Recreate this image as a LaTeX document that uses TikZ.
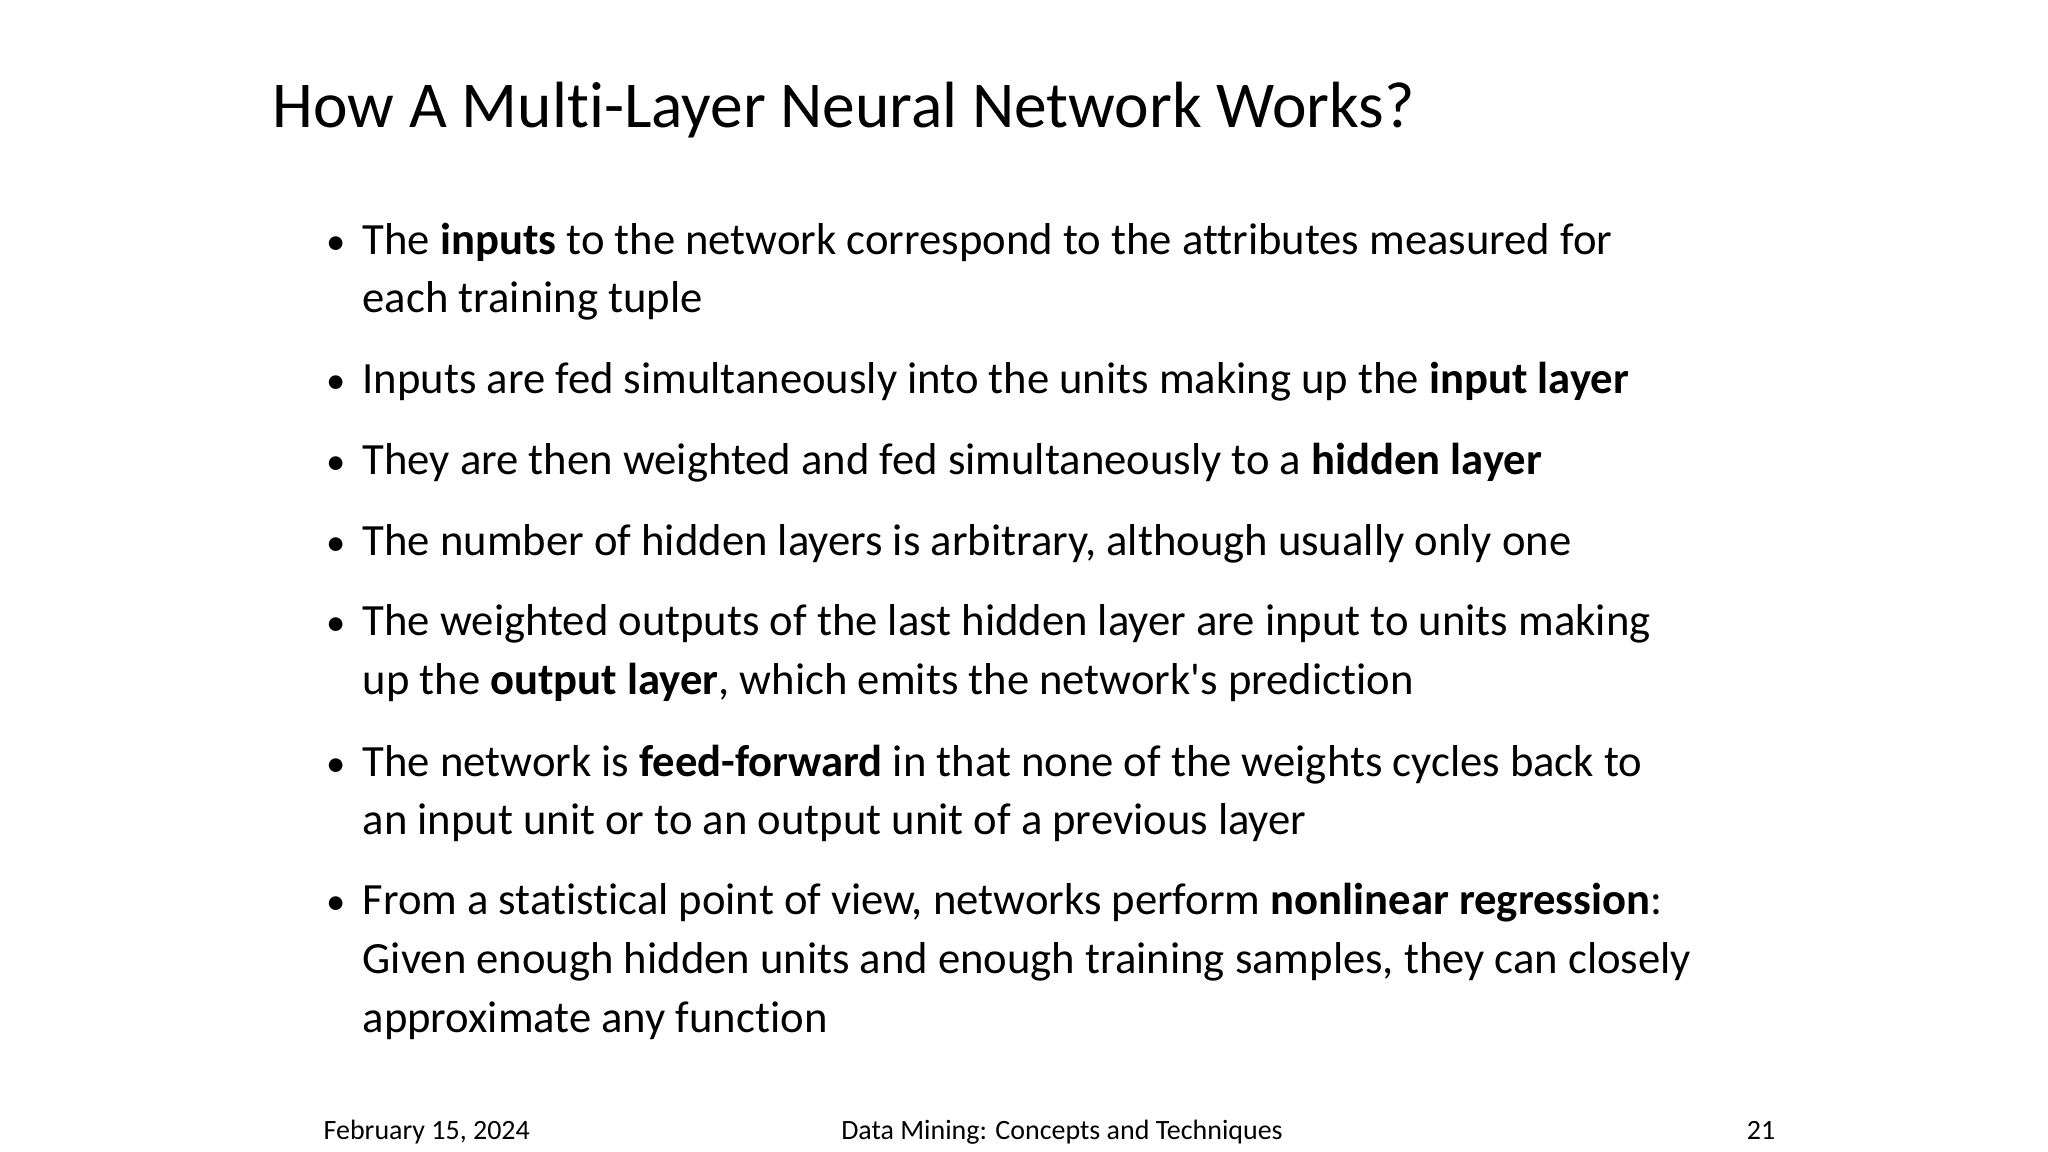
\documentclass[tikz,border=0pt]{standalone}
\usepackage{fontspec}
\setmainfont{Carlito}[Ligatures=NoCommon]
\begin{document}
\begin{tikzpicture}[x=0.01cm,y=-0.01cm,
  ln/.style={anchor=base west,inner sep=0pt,font=\fontsize{12.7}{15}\selectfont},
  bl/.style={anchor=base west,inner sep=0pt,font=\fontsize{11}{13}\selectfont},
  ft/.style={inner sep=0pt,font=\fontsize{7.95}{9}\selectfont}]
\useasboundingbox[fill=white] (0,0) rectangle (2048,1152);
\node[anchor=base west,inner sep=0pt,font=\fontsize{18.6}{22}\selectfont] (title) at (272,128) {How A Multi-Layer Neural Network Works?};
\foreach \y/\n in {255/1,394/2,475/3,555/4,636/5,776/6,914/7}
  \node[bl] (b\n) at (326,\y) {•};
\node[ln] (l1) at (362,255) {The \textbf{inputs} to the network correspond to the attributes measured for};
\node[ln] (l1b) at (362,313) {each training tuple};
\node[ln] (l2) at (362,394) {Inputs are fed simultaneously into the units making up the \textbf{input layer}};
\node[ln] (l3) at (362,475) {They are then weighted and fed simultaneously to a \textbf{hidden layer}};
\node[ln] (l4) at (362,555) {The number of hidden layers is arbitrary, although usually only one};
\node[ln] (l5) at (362,636) {The weighted outputs of the last hidden layer are input to units making};
\node[ln] (l5b) at (362,695) {up the \textbf{output layer}, which emits the network\textquotesingle s prediction};
\node[ln] (l6) at (362,776) {The network is \textbf{feed-forward} in that none of the weights cycles back to};
\node[ln] (l6b) at (362,834) {an input unit or to an output unit of a previous layer};
\node[ln] (l7) at (362,914) {From a statistical point of view, networks perform \textbf{nonlinear regression}:};
\node[ln] (l7b) at (362,973) {Given enough hidden units and enough training samples, they can closely};
\node[ln] (l7c) at (362,1032) {approximate any function};
\node[ft,anchor=base west] (date) at (323,1139) {February 15, 2024};
\node[ft,anchor=base] (course) at (1062,1139) {Data Mining: Concepts and Techniques};
\node[ft,anchor=base east] (page) at (1776,1139) {21};
\end{tikzpicture}
\end{document}
